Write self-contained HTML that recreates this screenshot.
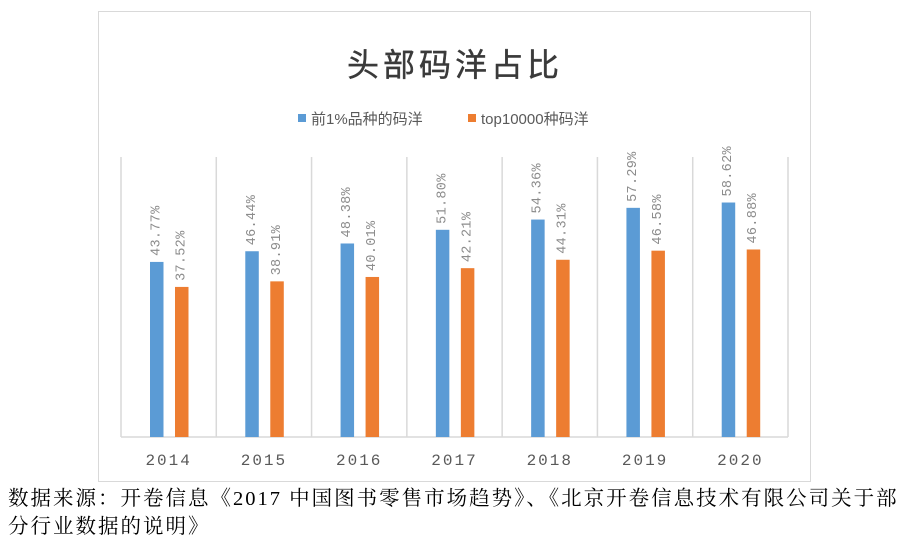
<!DOCTYPE html>
<html><head><meta charset="utf-8"><style>
body{margin:0;background:#fff;width:920px;height:554px;overflow:hidden;font-family:"Liberation Serif","Noto Serif CJK SC",serif}
.src{position:absolute;left:8px;top:485px;width:910px;font-size:20.5px;letter-spacing:2px;line-height:28px;color:#000;white-space:nowrap;font-family:"Liberation Serif","Noto Serif CJK SC",serif}
</style></head><body>
<svg id="chart" width="920" height="554" style="position:absolute;left:0;top:0">
<rect x="98.5" y="11.5" width="712" height="470" fill="#fff" stroke="#d9d9d9"/>
<text x="455" y="76" text-anchor="middle" font-size="32" fill="#3a3a3a" stroke="#3a3a3a" stroke-width="0.4" letter-spacing="4" font-family="Liberation Sans,Noto Sans CJK SC,sans-serif">头部码洋占比</text>
<g font-family="Liberation Sans,Noto Sans CJK SC,sans-serif" font-size="15" fill="#595959">
<rect x="298" y="114" width="8" height="8" fill="#5b9bd5"/>
<text x="311" y="124">前1%品种的码洋</text>
<rect x="468" y="114" width="8" height="8" fill="#ed7d31"/>
<text x="481" y="124">top10000种码洋</text>
</g>
<g id="plot"></g>
</svg>
<div class="src">数据来源：开卷信息《2017 中国图书零售市场趋势》、《北京开卷信息技术有限公司关于部<br>分行业数据的说明》</div>
<script>
const categories=["2014","2015","2016","2017","2018","2019","2020"];
const seriesTop1=[43.77,46.44,48.38,51.80,54.36,57.29,58.62];
const seriesTop10000=[37.52,38.91,40.01,42.21,44.31,46.58,46.88];
const yMax=70;
const L=121,R=788,T=157,B=437;
const cw=(R-L)/categories.length;
const x=i=>L+i*cw;
const y=v=>B-(v/yMax)*(B-T);
const ns="http://www.w3.org/2000/svg";
const g=document.getElementById('plot');
function mk(t,a){const e=document.createElementNS(ns,t);for(const k in a)e.setAttribute(k,a[k]);g.appendChild(e);return e;}
for(let i=0;i<=categories.length;i++){
 const l=mk('line',{x1:x(i),x2:x(i),y1:T,y2:B,stroke:'#d9d9d9','stroke-width':1.5});
 
 
}
const ax=mk('line',{x1:L,x2:R,y1:B,y2:B,stroke:'#d9d9d9','stroke-width':1.5});


const sets=[[seriesTop1,'#5b9bd5',29,'top1'],[seriesTop10000,'#ed7d31',54,'top10000']];
categories.forEach((c,i)=>{
 sets.forEach(([arr,col,off,nm])=>{
  const bx=x(i)+off, v=arr[i];
  const r=mk('rect',{x:bx,y:y(v),width:13.5,height:B-y(v),fill:col});
  
  
  const cx=bx+7,cy=y(v)-6;
  const t=mk('text',{x:cx,y:cy,transform:`rotate(-90 ${cx} ${cy})`,'font-size':13.5,fill:'#8c8c8c','dominant-baseline':'central','font-family':'Liberation Mono,monospace','letter-spacing':'0.3'});
  t.textContent=v.toFixed(2)+'%';
  
  
 });
 const t=mk('text',{x:x(i)+cw/2,y:465,'text-anchor':'middle','font-size':16,fill:'#595959','letter-spacing':'2','font-family':'Liberation Mono,monospace'});
 t.textContent=c;
 
 
});
</script>
</body></html>
